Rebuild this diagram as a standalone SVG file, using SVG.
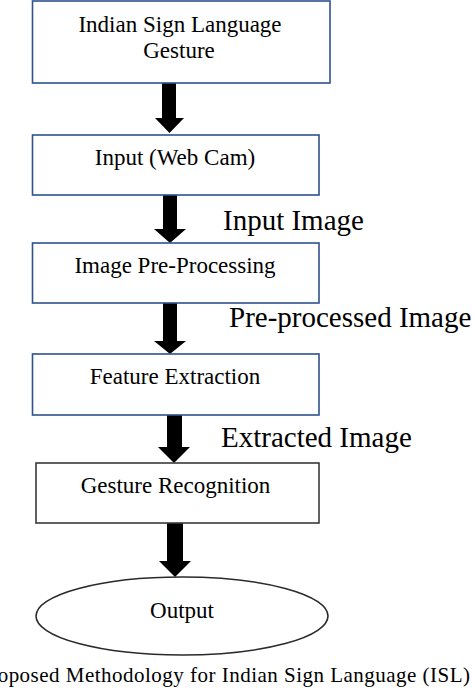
<svg xmlns="http://www.w3.org/2000/svg" width="474" height="689" viewBox="0 0 474 689">
<style>
  .box { fill: #ffffff; stroke: #2f528f; stroke-width: 1.6; }
  .box2 { fill: #ffffff; stroke: #3a3a3a; stroke-width: 1.6; }
  .ell { fill: #ffffff; stroke: #2a2a2a; stroke-width: 1.6; }
  text { font-family: 'Liberation Serif', 'Times New Roman', Tinos, 'DejaVu Serif', serif; fill: #000; }
  .t { font-size: 23px; text-anchor: middle; }
  .lbl { font-size: 29px; }
  .cap { font-size: 21px; }
  .arr { fill: #000000; }
</style>
<rect width="474" height="689" fill="#ffffff"/>
<g id="connectors">
  <polygon class="arr" points="162,83 176,83 176,118 184,118 169.5,133 155,118 162,118"/>
  <polygon class="arr" points="163,195 177,195 177,229 186,229 170,243 154,229 163,229"/>
  <polygon class="arr" points="163,303 177,303 177,341 186,341 170,354 154,341 163,341"/>
  <polygon class="arr" points="167,415 182,415 182,447 190,447 174,463 158,447 167,447"/>
  <polygon class="arr" points="167,523 183,523 183,561 191,561 175,577 159,561 167,561"/>
  <text class="lbl" x="223" y="230" font-family="Liberation Serif, serif">Input Image</text>
  <text class="lbl" x="229" y="327" font-family="Liberation Serif, serif">Pre-processed Image</text>
  <text class="lbl" x="221" y="447" font-family="Liberation Serif, serif">Extracted Image</text>
</g>
<g id="node-gesture-input">
  <rect class="box" x="32.5" y="1" width="297.5" height="82"/>
  <text class="t" x="180" y="32">Indian Sign Language</text>
  <text class="t" x="179" y="58">Gesture</text>
</g>
<g id="node-webcam">
  <rect class="box" x="32.5" y="135" width="286.5" height="60"/>
  <text class="t" x="175" y="165">Input (Web Cam)</text>
</g>
<g id="node-preprocessing">
  <rect class="box" x="32.5" y="243" width="286.5" height="60"/>
  <text class="t" x="175" y="273">Image Pre-Processing</text>
</g>
<g id="node-feature">
  <rect class="box" x="32.5" y="354" width="286.5" height="61"/>
  <text class="t" x="175" y="384">Feature Extraction</text>
</g>
<g id="node-recognition">
  <rect class="box2" x="36" y="463" width="283" height="60"/>
  <text class="t" x="175.5" y="493">Gesture Recognition</text>
</g>
<g id="node-output">
  <ellipse class="ell" cx="182" cy="616" rx="146" ry="39"/>
  <text class="t" x="182" y="618">Output</text>
</g>
<text class="cap" x="-22" y="682" textLength="492" lengthAdjust="spacing">Proposed Methodology for Indian Sign Language (ISL)</text>
</svg>
